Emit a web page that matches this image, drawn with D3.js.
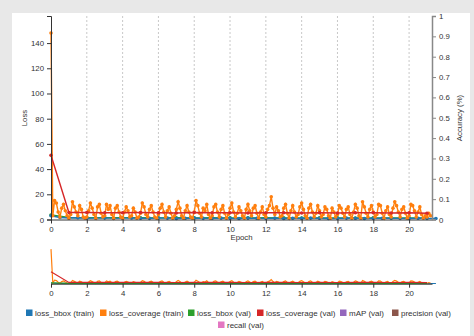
<!DOCTYPE html>
<html>
<head>
<meta charset="utf-8">
<script src="https://cdn.jsdelivr.net/npm/d3@7"></script>
<style>
  html, body { margin: 0; padding: 0; background: #e8e8e8; }
  svg { display: block; }
  text { font-family: "Liberation Sans", Arial, sans-serif; fill: #333; }
</style>
</head>
<body>
<script>
// Training log: train losses sampled within each epoch, validation metrics once per epoch
const seriesNames = ["loss_bbox (train)", "loss_coverage (train)", "loss_bbox (val)",
  "loss_coverage (val)", "mAP (val)", "precision (val)", "recall (val)"];
const seriesColors = ["#1f77b4", "#ff7f0e", "#2ca02c", "#d62728", "#9467bd", "#8c564b", "#e377c2"];

const trainStep = 0.1;
const lossCoverageTrain = [
  148, 3, 15, 13, 6, 2, 9, 12, 7, 3,
  1, 4, 14, 10, 6, 3, 11, 8, 2, 1,
  2, 7, 13, 9, 4, 1, 10, 12, 5, 2,
  3, 12, 8, 11, 4, 1, 9, 11, 6, 2,
  1, 6, 10, 7, 2, 3, 9, 6, 1, 2,
  5, 13, 10, 4, 2, 8, 11, 6, 2, 1,
  4, 9, 12, 6, 2, 7, 10, 5, 1, 3,
  8, 14, 9, 3, 1, 7, 11, 6, 2, 1,
  6, 15, 11, 5, 2, 9, 7, 12, 4, 1,
  3, 10, 12, 6, 2, 8, 11, 5, 1, 4,
  9, 13, 6, 2, 5, 10, 7, 3, 1, 8,
  12, 7, 3, 9, 11, 5, 1, 6, 10, 4,
  2, 8, 11, 18, 9, 4, 10, 7, 2, 3,
  9, 12, 5, 1, 7, 11, 6, 2, 4, 10,
  13, 8, 3, 1, 9, 12, 6, 2, 5, 11,
  7, 2, 4, 10, 8, 3, 1, 9, 6, 2,
  4, 11, 9, 5, 2, 8, 10, 4, 1, 6,
  12, 9, 3, 1, 14, 10, 5, 2, 8, 11,
  6, 2, 4, 12, 11, 5, 1, 7, 10, 4,
  2, 9, 14, 11, 6, 2, 8, 10, 5, 1,
  3, 12, 11, 7, 2, 6, 10, 4, 1, 3,
  2, 5, 3
];
const bboxTrainStep = 0.5;
const lossBboxTrain = [
  3.0, 1.6, 1.2, 1.4, 1.0, 1.1, 1.3, 0.9, 1.1, 1.2,
  1.0, 0.9, 1.2, 1.1, 0.8, 1.0, 1.2, 0.9, 1.0, 1.1,
  0.9, 0.8, 1.1, 1.0, 0.9, 1.1, 0.8, 1.0, 0.9, 1.1,
  1.0, 0.8, 0.9, 1.1, 1.0, 0.8, 0.9, 1.0, 1.1, 0.9,
  0.8, 1.0, 0.9, 0.8
];
const valEpochs = [0, 1, 2, 3, 4, 5, 6, 7, 8, 9, 10, 11, 12, 13, 14, 15, 16, 17, 18, 19, 20, 21];
const lossCoverageVal = [51, 5.6, 5.5, 5.4, 5.3, 5.5, 5.4, 5.2, 5.5, 5.3, 5.4, 5.2, 5.3, 5.4, 5.2, 5.3, 5.2, 5.4, 5.3, 5.2, 5.3, 5.0];
const lossBboxVal = [3.6, 1.6, 1.5, 1.4, 1.5, 1.4, 1.3, 1.4, 1.3, 1.4, 1.3, 1.3, 1.4, 1.3, 1.2, 1.3, 1.3, 1.2, 1.3, 1.2, 1.3, 1.2];
const mapVal = [];
const precisionVal = [];
const recallVal = [];

const xTicks = [0, 2, 4, 6, 8, 10, 12, 14, 16, 18, 20];
const yLossTicks = [0, 20, 40, 60, 80, 100, 120, 140];
const yAccTicks = [0, 0.1, 0.2, 0.3, 0.4, 0.5, 0.6, 0.7, 0.8, 0.9, 1];

const W = 474, H = 336;
const svg = d3.select("body").append("svg").attr("width", W).attr("height", H);

// white card
svg.append("rect").attr("x", 12).attr("y", 13).attr("width", 458).attr("height", H - 13).attr("fill", "#fff");

const x = d3.scaleLinear().domain([0, 21.28]).range([51, 432]);
const yL = d3.scaleLinear().domain([0, 161.5]).range([219.5, 16]);
const yR = d3.scaleLinear().domain([0, 1]).range([219.5, 16]);
const yS = d3.scaleLinear().domain([0, 161.5]).range([283.7, 246]);

const trainPts = arr => arr.map((v, i) => [Math.round(i * trainStep * 1000) / 1000, v]);
const series = [
  { data: lossBboxTrain.map((v, i) => [i * bboxTrainStep, v]), axis: "L" },
  { data: trainPts(lossCoverageTrain), axis: "L" },
  { data: valEpochs.map((e, i) => [e, lossBboxVal[i]]), axis: "L" },
  { data: valEpochs.map((e, i) => [e, lossCoverageVal[i]]), axis: "L" },
  { data: mapVal.map((v, i) => [valEpochs[i], v]), axis: "R" },
  { data: precisionVal.map((v, i) => [valEpochs[i], v]), axis: "R" },
  { data: recallVal.map((v, i) => [valEpochs[i], v]), axis: "R" }
];

// vertical grid
svg.append("g").selectAll("line").data(xTicks.filter(t => t > 0)).join("line")
  .attr("x1", d => x(d)).attr("x2", d => x(d)).attr("y1", 16).attr("y2", 219.5)
  .attr("stroke", "#c8c8c8").attr("stroke-dasharray", "2,2").attr("stroke-width", 1);

// lines and points; validation bbox loss is drawn beneath the train bbox loss
const drawOrder = [2, 0, 1, 3, 4, 5, 6];
const main = svg.append("g");
drawOrder.forEach(i => {
  const s = series[i];
  const ys = s.axis === "L" ? yL : yR;
  const line = d3.line().x(d => x(d[0])).y(d => ys(d[1]));
  main.append("path").datum(s.data).attr("d", line).attr("fill", "none")
    .attr("stroke", seriesColors[i]).attr("stroke-width", 1.4);
  main.append("g").selectAll("circle").data(s.data).join("circle")
    .attr("cx", d => x(d[0])).attr("cy", d => ys(d[1])).attr("r", 1.8)
    .attr("fill", seriesColors[i]);
});

function styleAxis(g, color) {
  g.selectAll("path.domain").attr("stroke", color);
  g.selectAll(".tick line").attr("stroke", color);
  g.selectAll("text").attr("font-size", 7.8).attr("fill", "#333")
    .attr("font-family", "'Liberation Sans', Arial, sans-serif");
}

// axes
const gx = svg.append("g").attr("transform", "translate(0,219.5)")
  .call(d3.axisBottom(x).tickValues(xTicks).tickSize(4).tickSizeOuter(0).tickFormat(d3.format("d")));
styleAxis(gx, "#333");
const gyl = svg.append("g").attr("transform", "translate(51,0)")
  .call(d3.axisLeft(yL).tickValues(yLossTicks).tickSize(4).tickSizeOuter(4));
styleAxis(gyl, "#333");
const gyr = svg.append("g").attr("transform", "translate(432,0)")
  .call(d3.axisRight(yR).tickValues(yAccTicks).tickSize(4).tickSizeOuter(4).tickFormat(d3.format("~g")));
styleAxis(gyr, "#888");
gyr.select("path.domain").attr("stroke-width", 1.5);

svg.append("text").attr("transform", "translate(27,118) rotate(-90)").attr("text-anchor", "middle")
  .attr("font-size", 7.8).text("Loss");
svg.append("text").attr("transform", "translate(462,118) rotate(-90)").attr("text-anchor", "middle")
  .attr("font-size", 7.8).text("Accuracy (%)");
svg.append("text").attr("x", 241.5).attr("y", 240).attr("text-anchor", "middle")
  .attr("font-size", 7.8).text("Epoch");

// overview chart
const sub = svg.append("g");
series.forEach((s, i) => {
  if (s.axis !== "L") return;
  const line = d3.line().x(d => x(d[0])).y(d => yS(d[1]));
  sub.append("path").datum(s.data).attr("d", line).attr("fill", "none")
    .attr("stroke", seriesColors[i]).attr("stroke-width", 1.2);
});
const gs = svg.append("g").attr("transform", "translate(0,283.7)")
  .call(d3.axisBottom(x).tickValues(xTicks).tickSize(4).tickSizeOuter(0).tickFormat(d3.format("d")));
styleAxis(gs, "#333");

// legend
const legendPos = [[26, 313], [100, 313], [188, 313], [257, 313], [340, 313], [392, 313], [218, 325]];
const lg = svg.append("g");
seriesNames.forEach((name, i) => {
  const [lx, ly] = legendPos[i];
  lg.append("rect").attr("x", lx).attr("y", ly - 3.5).attr("width", 6.5).attr("height", 6.5)
    .attr("fill", seriesColors[i]);
  lg.append("text").attr("x", lx + 9).attr("y", ly + 2.8).attr("font-size", 8).text(name);
});
</script>
</body>
</html>
